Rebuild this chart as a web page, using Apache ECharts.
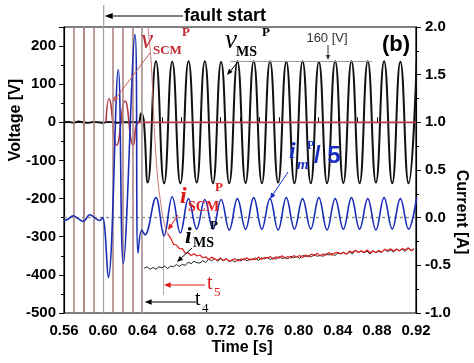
<!DOCTYPE html>
<html><head><meta charset="utf-8">
<script src="https://cdn.jsdelivr.net/npm/echarts@6/dist/echarts.min.js"></script>
<style>html,body{margin:0;padding:0;background:#fff}#c{width:474px;height:363px}</style>
</head><body><div id="c"></div>
<script>
// ---------------- data ----------------
const xMin = 0.56, xMax = 0.92, xStep = 0.04;
const vMin = -500, vMax = 250, vStep = 100;
const iMin = -1, iMax = 2, iStep = 0.5;

// switching instants (vertical lines)
const switchT = [0.5672, 0.5753, 0.5838, 0.5924, 0.6104, 0.6186, 0.6268, 0.6350];
const faultStartT = 0.6006;
const t4T = 0.6415;
const t5T = 0.661;

// v_MS^P : pre-fault part
const vMSPreT = [0.56,0.565,0.570,0.575,0.580,0.585,0.590,0.595,0.600,0.605,0.610,0.615,0.620,0.625,0.630,0.6355,0.6372,0.6380,0.6390,0.6402,0.6418];
const vMSPreV = [0,1,-1,2,0,-1,1,0,-1,1,0,-1,1,0,1,0,2,15,24,20,0];
// v_MS^P : post-fault extremes, one per half period from first trough
const vMSExtT0 = 0.6457, vMSHalf = 1/120;
const vMSExtV = [-158,160,-160,159,-160,160,-158,160,-160,158,-160,160,-159,160,-160,160,-158,159,-160,160,-160,158,-160,160,-159,160,-160,160,-158,160,-160,159,-160,160];

// v_SCM^P
const vSCMT = [0.6029,0.606,0.6139,0.6224,0.6309,0.6365,0.92];
const vSCMV = [0,62,-60,56,-60,0,0];

// i_m^P / 5 : pre-fault + fault transient
const imPreT = [0.56,0.5635,0.5695,0.5745,0.5795,0.5865,0.5925,0.5965,0.5995,0.6053,0.6155,0.6206,0.6326,0.6357,0.6395,0.6428];
const imPreV = [-0.03,-0.02,0.02,-0.01,-0.04,0.03,-0.01,-0.03,0.0,-0.63,1.55,-0.48,1.92,-0.37,-0.13,-0.18];
// i_m^P / 5 : post-fault extremes, one per half period from first peak
const imExtT0 = 0.654, imHalf = 1/120;
const imExtV = [0.21,-0.19,0.22,-0.16,0.20,-0.12,0.19,-0.12,0.19,-0.13,0.20,-0.12,0.21,-0.12,0.20,-0.13,0.21,-0.12,0.20,-0.12,0.21,-0.13,0.20,-0.12,0.21,-0.12,0.20,-0.13,0.21,-0.12,0.20,-0.12,0.21];

// i_SCM^P : steep head and noisy tail (sampled every 3 ms)
const iSCMHeadT = [0.6452,0.6459,0.6490,0.6520,0.6551,0.6592,0.6630,0.666];
const iSCMHeadV = [2.1,2.0,1.65,1.02,0.5,0.13,-0.08,-0.17];
const iSCMT0 = 0.666, iSCMDt = 0.003;
const iSCMV = [-0.170,-0.213,-0.280,-0.287,-0.326,-0.325,-0.372,-0.368,-0.398,-0.378,-0.402,-0.391,-0.420,-0.412,-0.438,-0.414,-0.432,-0.446,-0.422,-0.448,-0.430,-0.458,-0.441,-0.433,-0.456,-0.432,-0.444,-0.421,-0.447,-0.430,-0.440,-0.412,-0.439,-0.419,-0.426,-0.408,-0.438,-0.410,-0.424,-0.399,-0.425,-0.408,-0.424,-0.398,-0.412,-0.396,-0.418,-0.392,-0.410,-0.382,-0.399,-0.372,-0.402,-0.382,-0.393,-0.364,-0.394,-0.370,-0.363,-0.382,-0.366,-0.382,-0.351,-0.366,-0.341,-0.362,-0.348,-0.364,-0.339,-0.368,-0.348,-0.366,-0.344,-0.362,-0.331,-0.344,-0.326,-0.350,-0.329,-0.349,-0.325,-0.338,-0.315,-0.346,-0.326];

// i_MS^P : sampled every 3 ms
const iMST0 = 0.642, iMSDt = 0.003;
const iMSV = [-0.530,-0.516,-0.542,-0.522,-0.542,-0.515,-0.526,-0.508,-0.534,-0.509,-0.514,-0.492,-0.510,-0.489,-0.501,-0.466,-0.483,-0.457,-0.473,-0.476,-0.450,-0.470,-0.436,-0.452,-0.428,-0.456,-0.432,-0.452,-0.432,-0.460,-0.449,-0.465,-0.436,-0.454,-0.428,-0.453,-0.435,-0.442,-0.422,-0.450,-0.421,-0.433,-0.416,-0.440,-0.420,-0.436,-0.408,-0.429,-0.417,-0.432,-0.404,-0.422,-0.406,-0.428,-0.394,-0.410,-0.398,-0.414,-0.383,-0.406,-0.394,-0.406,-0.377,-0.392,-0.376,-0.398,-0.373,-0.378,-0.362,-0.384,-0.361,-0.380,-0.345,-0.364,-0.352,-0.368,-0.351,-0.382,-0.350,-0.368,-0.354,-0.364,-0.333,-0.356,-0.340,-0.360,-0.331,-0.345,-0.331,-0.354,-0.323,-0.348,-0.332];

// ---------------- build ----------------
const zip = (t, v) => t.map((x, i) => [x, v[i]]);
const grid = (t0, dt, v) => v.map((y, i) => [+(t0 + i * dt).toFixed(5), y]);

const vMSData = zip(vMSPreT, vMSPreV).concat(grid(vMSExtT0, vMSHalf, vMSExtV));
const imData = zip(imPreT, imPreV).concat(grid(imExtT0, imHalf, imExtV));

const chart = echarts.init(document.getElementById('c'));
const axisTxt = {color:'#000', fontWeight:'bold', fontSize:15, fontFamily:'Arial'};
const blk = {lineStyle:{color:'#000', width:1.2}};

chart.setOption({
  animation:false,
  grid:{left:64, right:58, top:27, bottom:50, show:true, borderColor:'#000', borderWidth:1.2},
  xAxis:{type:'value', min:xMin, max:xMax, interval:xStep,
    axisLine:blk, axisTick:{inside:true, length:5, lineStyle:{color:'#000'}},
    minorTick:{show:true, splitNumber:2, length:5, lineStyle:{color:'#000'}},
    axisLabel:Object.assign({formatter:v=>v.toFixed(2), margin:10}, axisTxt),
    splitLine:{show:false}},
  yAxis:[
    {type:'value', min:vMin, max:vMax, interval:vStep, position:'left',
     axisLine:Object.assign({show:true}, blk), axisTick:{show:true, inside:false, length:5, lineStyle:{color:'#000'}},
     minorTick:{show:true, splitNumber:2, length:3, lineStyle:{color:'#000'}},
     axisLabel:Object.assign({formatter:v=>v===250?'':String(v), margin:8}, axisTxt),
     splitLine:{show:false}},
    {type:'value', min:iMin, max:iMax, interval:iStep, position:'right',
     axisLine:Object.assign({show:true}, blk), axisTick:{show:true, inside:false, length:5, lineStyle:{color:'#000'}},
     minorTick:{show:true, splitNumber:2, length:3, lineStyle:{color:'#000'}},
     axisLabel:Object.assign({formatter:v=>v.toFixed(1), margin:9}, axisTxt),
     splitLine:{show:false}}
  ],
  series:[
    {type:'line', yAxisIndex:1, data:[], z:1, silent:true,
     markLine:{silent:true, symbol:['none','none'], label:{show:false}, animation:false,
       data: switchT.map(t=>({xAxis:t, lineStyle:{color:'#b08484', width:1.6, type:'solid'}}))
         .concat([{xAxis:faultStartT, lineStyle:{color:'#a0a0a0', width:1.2, type:'solid'}},
                  {xAxis:t4T, lineStyle:{color:'#b0b0b0', width:1, type:'solid'}},
                  [{coord:[t5T,-0.13], lineStyle:{color:'#b0b0b0', width:1, type:'solid'}},{coord:[t5T,-0.81]}],
                  {yAxis:0, lineStyle:{color:'#8a8a8a', width:1.3, type:[3,3]}}])}},
    {name:'vMS', type:'line', yAxisIndex:0, data:vMSData, smooth:0.5, showSymbol:false, z:3,
     lineStyle:{color:'#111', width:2},
     markLine:{silent:true, symbol:['none','none'], label:{show:false}, animation:false,
       data:[[{coord:[0.73,160], lineStyle:{color:'#999', width:1, type:'solid'}},{coord:[0.875,160]}]]}},
    {name:'vSCM', type:'line', yAxisIndex:0, data:zip(vSCMT, vSCMV), smooth:0.5, showSymbol:false, z:4,
     lineStyle:{color:'#b23a48', width:1.6}},
    {name:'im', type:'line', yAxisIndex:1, data:imData, smooth:0.4, showSymbol:false, z:5,
     lineStyle:{color:'#1a2db5', width:1.6}},
    {name:'iMS', type:'line', yAxisIndex:1, data:grid(iMST0, iMSDt, iMSV), showSymbol:false, z:6,
     lineStyle:{color:'#222', width:1}},
    {name:'iSCMhead', type:'line', yAxisIndex:1, data:zip(iSCMHeadT, iSCMHeadV), smooth:0.4, showSymbol:false, z:6,
     lineStyle:{color:'#c87878', width:1}},
    {name:'iSCM', type:'line', yAxisIndex:1, data:grid(iSCMT0, iSCMDt, iSCMV), showSymbol:false, z:7,
     lineStyle:{color:'#e0201c', width:1.2}}
  ]
});

// ---------------- annotations ----------------
const SANS = 'Arial';
const SER = 'Liberation Serif';
function txt(x, y, text, size, fam, fill, opt) {
  opt = opt || {};
  return {type:'text', x:x, y:y, rotation:opt.rot||0, silent:true, z:100,
    style:{text:text, fontSize:size, fontFamily:fam, fontWeight:opt.bold?'bold':'normal',
           fontStyle:opt.italic?'italic':'normal', fill:fill||'#000',
           align:opt.align||'left', verticalAlign:'middle'}};
}
function arrow(x1, y1, x2, y2, color, w, hl, hw) {
  const dx = x2-x1, dy = y2-y1, L = Math.hypot(dx, dy), ux = dx/L, uy = dy/L;
  const bx = x2-ux*hl, by = y2-uy*hl;
  return [
    {type:'line', silent:true, z:100, shape:{x1:x1, y1:y1, x2:bx, y2:by}, style:{stroke:color, lineWidth:w}},
    {type:'polygon', silent:true, z:100, shape:{points:[[x2,y2],[bx-uy*hw,by+ux*hw],[bx+uy*hw,by-ux*hw]]}, style:{fill:color}}
  ];
}
const fx = chart.convertToPixel({xAxisIndex:0}, faultStartT);
const red1 = '#c0282f', red2 = '#e01a1a', blue = '#1a2cc0';
const B = {bold:true}, I = {italic:true}, BI = {bold:true, italic:true};
let g = [];
g.push({type:'line', silent:true, z:100, shape:{x1:fx, y1:5, x2:fx, y2:27}, style:{stroke:'#a0a0a0', lineWidth:1.2}});
g = g.concat(arrow(183, 16, fx+1, 16, '#000', 1.2, 8, 3));
g.push(txt(184, 16, 'fault start', 18, SANS, '#000', B));
g.push(txt(396, 45, '(b)', 22, SANS, '#000', {bold:true, align:'center'}));
g.push(txt(327, 38, '160 [V]', 13, SANS, '#333', {align:'center'}));
g = g.concat(arrow(328, 45, 328, 60, '#333', 1, 5, 2.2));
g.push(txt(16, 120, 'Voltage [V]', 16, SANS, '#000', {bold:true, align:'center', rot:Math.PI/2}));
g.push(txt(461, 212, 'Current [A]', 16, SANS, '#000', {bold:true, align:'center', rot:-Math.PI/2}));
g.push(txt(242, 348, 'Time [s]', 16, SANS, '#000', {bold:true, align:'center'}));
// v_SCM^P
g.push(txt(141, 41, 'v', 27, SER, red1, I));
g.push(txt(153, 51, 'SCM', 13, SER, red1, B));
g.push(txt(182, 32.5, 'P', 13, SER, red1, B));
g = g.concat(arrow(150, 53, 113, 102, '#c85a5a', 1, 6, 2.5));
// v_MS^P
g.push(txt(225, 41, 'v', 27, SER, '#000', I));
g.push(txt(236, 52, 'MS', 14, SER, '#000', B));
g.push(txt(262, 33, 'P', 13, SER, '#000', B));
g = g.concat(arrow(238, 62, 227, 75, '#000', 1, 6, 2.5));
// i_m^P / 5
g.push(txt(289, 152, 'i', 24, SER, blue, BI));
g.push(txt(297, 165, 'm', 15, SER, blue, BI));
g.push(txt(307, 146, 'P', 12, SER, blue, B));
g.push(txt(314, 156, '/ 5', 24, SANS, blue, B));
g = g.concat(arrow(288, 172, 270, 199, blue, 1, 6, 2.5));
// i_SCM^P
g.push(txt(180, 197, 'i', 24, SER, red2, BI));
g.push(txt(188, 207, 'SCM', 14, SER, red2, B));
g.push(txt(215, 187.5, 'P', 13, SER, red2, B));
g = g.concat(arrow(178, 215, 168, 230, red2, 1, 6, 2.5));
// i_MS^P
g.push(txt(185, 237, 'i', 24, SER, '#000', BI));
g.push(txt(193, 243, 'MS', 14, SER, '#000', B));
g.push(txt(210, 225.5, 'P', 13, SER, '#000', B));
g = g.concat(arrow(192, 248, 177, 262, '#000', 1, 6, 2.5));
// t5, t4
const t5x = chart.convertToPixel({xAxisIndex:0}, t5T), t4x = chart.convertToPixel({xAxisIndex:0}, t4T);
g = g.concat(arrow(205, 285, t5x+1, 285, red2, 1.2, 7, 2.8));
g.push(txt(207, 284, 't', 20, SER, red2));
g.push(txt(214, 293, '5', 13, SER, red2));
g = g.concat(arrow(196, 302, t4x+1, 302, '#000', 1.2, 7, 2.8));
g.push(txt(195, 300, 't', 20, SER, '#000'));
g.push(txt(202, 309, '4', 13, SER, '#000'));
chart.setOption({graphic:g});
</script></body></html>
